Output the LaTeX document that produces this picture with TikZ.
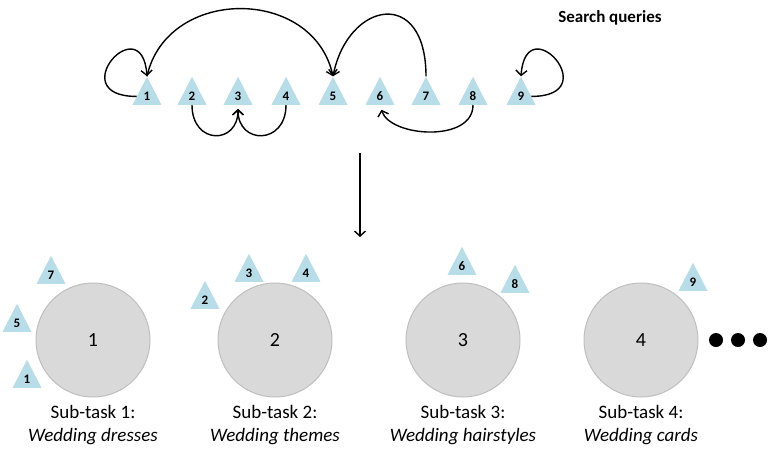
\documentclass[tikz,border=0pt]{standalone}
\usepackage{fontspec}
\setmainfont{Carlito}
\usepackage{tikz}
\usetikzlibrary{shapes.geometric,arrows.meta}
\definecolor{qblue}{RGB}{183,221,232}
\definecolor{tgray}{RGB}{217,217,217}
\definecolor{tedge}{RGB}{191,191,191}

\begin{document}
\begin{tikzpicture}[x=1pt,y=-1pt,
  query/.style={isosceles triangle, isosceles triangle stretches, shape border rotate=90,
    fill=qblue, minimum width=29pt, minimum height=28pt, inner sep=0pt,
    font=\fontsize{13}{13}\selectfont\bfseries},
  task/.style={circle, fill=tgray, draw=tedge, line width=1pt, minimum size=114pt,
    font=\fontsize{20}{20}\selectfont},
  tasklabel/.style={align=center, font=\fontsize{19}{23}\selectfont},
  arr/.style={-{Straight Barb[length=5pt,width=11pt]}, line width=1.4pt}]
\useasboundingbox (0,0) rectangle (769,467);

\node[font=\fontsize{17}{17}\selectfont\bfseries] (title) at (610,18) {Search queries};

\foreach \n/\x in {1/147,2/192,3/238,4/286,5/333,6/380,7/426,8/473,9/521}
  \node[query, anchor=south] (q\n) at (\x,105) {\n};

\draw[arr] (q1.west) .. controls +(-75,0) and +(-5,-70) .. (q1.apex);
\draw[arr] (q1.apex) .. controls +(20,-90) and +(-20,-90) .. (q5.apex);
\draw[arr] (q7.apex) .. controls +(0,-90) and +(15,-75) .. (q5.apex);
\draw[arr] (q9.east) .. controls +(75,0) and +(5,-70) .. (q9.apex);
\draw[arr, shorten >=4pt] (q2.south) .. controls +(0,40) and +(0,40) .. (q3.south);
\draw[arr, shorten >=4pt] (q4.south) .. controls +(0,40) and +(0,40) .. (q3.south);
\draw[arr, shorten >=5pt] (q8.south) .. controls +(0,38) and +(10,32) .. (q6.south);

\coordinate (dtop) at (360,153);
\coordinate (dbot) at (360,237);
\draw[arr] (dtop) -- (dbot);

\node[task] (task1) at (93,340) {1};
\node[task] (task2) at (275,340) {2};
\node[task] (task3) at (463,340) {3};
\node[task] (task4) at (641,340) {4};

\node[tasklabel] (lab1) at (93,425) {Sub-task 1:\\\textit{Wedding dresses}};
\node[tasklabel] (lab2) at (275,425) {Sub-task 2:\\\textit{Wedding themes}};
\node[tasklabel] (lab3) at (463,425) {Sub-task 3:\\\textit{Wedding hairstyles}};
\node[tasklabel] (lab4) at (641,425) {Sub-task 4:\\\textit{Wedding cards}};

\node[query, anchor=south] (t1q7) at (51,284) {7};
\node[query, anchor=south] (t1q5) at (17,332) {5};
\node[query, anchor=south] (t1q1) at (27,388) {1};
\node[query, anchor=south] (t2q2) at (205,309) {2};
\node[query, anchor=south] (t2q3) at (249,282) {3};
\node[query, anchor=south] (t2q4) at (306,282) {4};
\node[query, anchor=south] (t3q6) at (462,275) {6};
\node[query, anchor=south] (t3q8) at (515,293) {8};
\node[query, anchor=south] (t4q9) at (693,291) {9};

\foreach \i/\x in {1/716,2/738,3/760}
  \node[circle, fill=black, inner sep=0pt, minimum size=14pt] (dot\i) at (\x,340) {};

\end{tikzpicture}
\end{document}
